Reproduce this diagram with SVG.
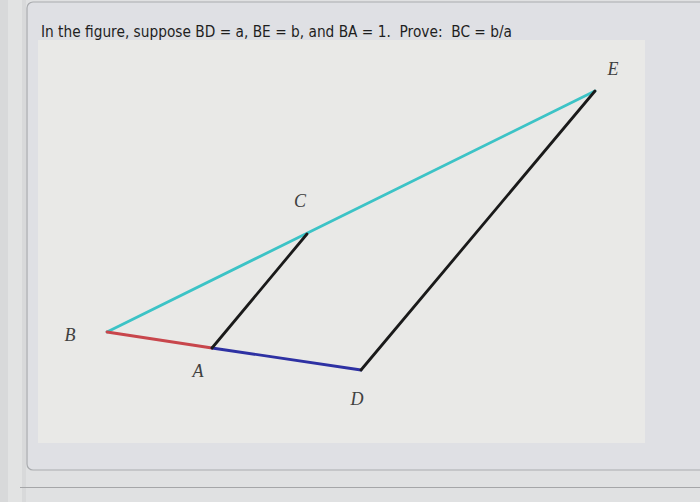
<svg xmlns="http://www.w3.org/2000/svg" width="700" height="502" viewBox="0 0 700 502">
<style>
.lbl{font-family:"Liberation Serif","DejaVu Serif",serif;font-style:italic;font-size:18px;fill:#404040;text-anchor:middle}
.q{font-family:"DejaVu Sans Condensed","Liberation Sans",sans-serif;font-size:15px;fill:#1e1e1e;white-space:pre}
.seg{stroke-width:2.8;stroke-linecap:round;fill:none}
</style>
<rect x="0" y="0" width="700" height="502" fill="#e0e1e2"/>
<rect x="0" y="0" width="26" height="502" fill="#d8d9da"/>
<rect x="8" y="0" width="14" height="502" fill="#e2e3e3"/>
<rect x="27" y="2" width="690" height="468" rx="6" fill="#dfe0e4" stroke="#a9abae" stroke-width="1.2"/>
<rect x="38" y="40" width="607" height="403" fill="#e9e9e7"/>
<line x1="20" y1="487.5" x2="700" y2="487.5" stroke="#a5a6a8" stroke-width="1.2"/>
<text class="q" x="41" y="37" textLength="471" lengthAdjust="spacingAndGlyphs" xml:space="preserve">In the figure, suppose BD = a, BE = b, and BA = 1.  Prove:  BC = b/a</text>
<g id="connectors">
<line class="seg" x1="107" y1="332" x2="595" y2="91" stroke="#3cc3c6"/>
<line class="seg" x1="107" y1="332" x2="212" y2="348" stroke="#c8464c"/>
<line class="seg" x1="212" y1="348" x2="361" y2="370" stroke="#2e31a3"/>
<line class="seg" x1="212" y1="348" x2="307" y2="234" stroke="#1a1a1a"/>
<line class="seg" x1="361" y1="370" x2="595" y2="91" stroke="#1a1a1a"/>
</g>
<g id="B"><text class="lbl" x="70" y="341">B</text></g>
<g id="A"><text class="lbl" x="198" y="377">A</text></g>
<g id="D"><text class="lbl" x="357" y="405">D</text></g>
<g id="C"><text class="lbl" x="300" y="207">C</text></g>
<g id="E"><text class="lbl" x="613" y="75">E</text></g>
</svg>
